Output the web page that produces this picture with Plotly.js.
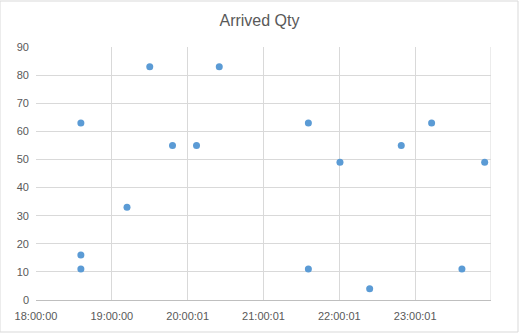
<!DOCTYPE html>
<html>
<head>
<meta charset="utf-8">
<script src="https://cdn.plot.ly/plotly-3.0.1.min.js"></script>
<style>
html,body{margin:0;padding:0;background:#fff;}
#chart{width:519px;height:333px;}
</style>
</head>
<body>
<div id="chart"></div>
<script>
var arrivalTimes = ["18:35:30","18:35:30","18:35:30","19:12:00","19:30:00","19:48:00","20:07:00","20:25:00","21:35:30","21:35:30","22:00:30","22:24:00","22:49:00","23:13:00","23:37:00","23:55:00"];
var arrivedQty = [63,16,11,33,83,55,55,83,63,11,49,4,55,63,11,49];
var tickTimes = ["18:00:00","19:00:00","20:00:00","21:00:00","22:00:00","23:00:00"];
var tickLabels = ["18:00:00","19:00:00","20:00:01","21:00:01","22:00:01","23:00:01"];
var day = "2024-01-01 ";
var fontFam = "'Liberation Sans', Arial, sans-serif";
var trace = {
  x: arrivalTimes.map(function(t){return day+t;}),
  y: arrivedQty,
  type: "scatter",
  mode: "markers",
  marker: {color: "#5b9bd5", size: 7}
};
var layout = {
  width: 519, height: 333,
  margin: {l: 36, r: 28, t: 47, b: 33},
  paper_bgcolor: "#fff", plot_bgcolor: "#fff",
  title: {text: "Arrived Qty", font: {family: fontFam, size: 16, color: "#595959"}, x: 0.5, xanchor: "center", y: 0.94, yanchor: "middle"},
  font: {family: fontFam, size: 11, color: "#595959"},
  showlegend: false,
  xaxis: {
    type: "date",
    range: [day+"18:00:00", "2024-01-02 00:00:00"],
    tickvals: tickTimes.map(function(t){return day+t;}),
    ticktext: tickLabels,
    showgrid: true, gridcolor: "#d9d9d9", gridwidth: 1,
    showline: true, linecolor: "#bfbfbf", linewidth: 1,
    ticks: "", zeroline: false, ticklabelstandoff: 6,
    tickfont: {family: fontFam, size: 11, color: "#595959"}
  },
  yaxis: {
    range: [0, 90], dtick: 10,
    showgrid: true, gridcolor: "#d9d9d9", gridwidth: 1,
    showline: false, zeroline: false, ticks: "", ticklabelstandoff: 6,
    tickfont: {family: fontFam, size: 11, color: "#595959"}
  },
  shapes: [
    {type: "line", xref: "x", yref: "paper", x0: "2024-01-02 00:00:00", x1: "2024-01-02 00:00:00", y0: 0, y1: 1, line: {color: "#d9d9d9", width: 1}},
    {type: "rect", xref: "paper", yref: "paper", x0: -36/455, x1: 1+27/455, y0: -32/253, y1: 1+46/253, line: {color: "#d9d9d9", width: 1}}
  ]
};
Plotly.newPlot("chart", [trace], layout, {displayModeBar: false, staticPlot: true});
</script>
</body>
</html>
